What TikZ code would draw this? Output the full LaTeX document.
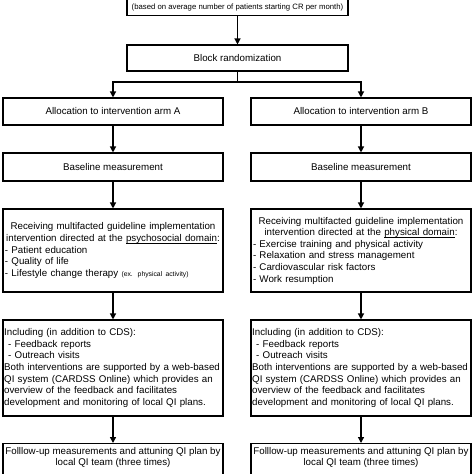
\documentclass[tikz,border=0pt]{standalone}
\usepackage{fontspec}
\setmainfont{Liberation Sans}
\usetikzlibrary{arrows.meta}
\newcommand{\ctrline}[1]{\makebox[216pt][c]{#1}}
\newsavebox{\domainbox}
\newcommand{\domain}[1]{\sbox{\domainbox}{#1}\rlap{\rule[-1.8pt]{\wd\domainbox}{0.5pt}}\usebox{\domainbox}}
\begin{document}
\begin{tikzpicture}[x=1pt,y=-1pt,
  box/.style={draw, line width=1.1pt, rectangle, inner xsep=2pt, inner ysep=1pt,
    minimum width=220pt, font=\fontsize{9.75}{11.6}\selectfont},
  leftbox/.style={box, text width=216pt, align=left},
  incbox/.style={box, inner xsep=1.2pt, text width=217.6pt, align=left},
  plain/.style={inner sep=0pt, font=\fontsize{9.75}{11.6}\selectfont, align=center},
  small/.style={inner sep=0pt, font=\fontsize{7.75}{9}\selectfont},
  arr/.style={-{Triangle[length=6pt,width=6pt]}, line width=1.3pt},
  ln/.style={line width=1.3pt}]
\useasboundingbox (0,0) rectangle (474,474);

% top
\node[box, minimum width=221pt, minimum height=40pt, anchor=south] (top) at (237.5,16) {};
\node[small] (toptext) at (237.5,7.5) {(based on average number of patients starting CR per month)};
\node[box, minimum width=221pt, minimum height=26pt] (block) at (237.5,58) {Block randomization};
\coordinate (split) at (237.5,82);

% left arm
\node[box, minimum height=27pt] (allocA) at (113,111.5) {Allocation to intervention arm A};
\node[box, minimum height=28pt] (baseA) at (113,167) {Baseline measurement};
\node[leftbox, minimum height=83pt] (recA) at (113,250.5) {\ctrline{Receiving multifacted guideline implementation}\\
\ctrline{intervention directed at the \domain{psychosocial domain}:}\\
- Patient education\\
- Quality of life\\
- Lifestyle change therapy {\fontsize{6.8}{8}\selectfont(ex. physical activity)}};
\node[incbox, minimum height=96pt] (incA) at (113,368) {Including (in addition to CDS):\\
\hspace*{4pt}- Feedback reports\\
\hspace*{4pt}- Outreach visits\\
Both interventions are supported by a web-based\\
QI system (CARDSS Online) which provides an\\
overview of the feedback and facilitates\\
development and monitoring of local QI plans.};
\node[box, minimum height=45pt, anchor=north] (folA) at (113,443) {};
\node[plain] (folAtext) at (113,457.5) {Folllow-up measurements and attuning QI plan by\\ local QI team (three times)};

% right arm
\node[box, minimum height=27pt] (allocB) at (361,111.5) {Allocation to intervention arm B};
\node[box, minimum height=28pt] (baseB) at (361,167) {Baseline measurement};
\node[leftbox, minimum height=83pt] (recB) at (361,250.5) {\ctrline{Receiving multifacted guideline implementation}\\
\ctrline{intervention directed at the \domain{physical domain}:}\\
- Exercise training and physical activity\\
- Relaxation and stress management\\
- Cardiovascular risk factors\\
- Work resumption};
\node[incbox, minimum height=96pt] (incB) at (361,368) {Including (in addition to CDS):\\
\hspace*{4pt}- Feedback reports\\
\hspace*{4pt}- Outreach visits\\
Both interventions are supported by a web-based\\
QI system (CARDSS Online) which provides an\\
overview of the feedback and facilitates\\
development and monitoring of local QI plans.};
\node[box, minimum height=45pt, anchor=north] (folB) at (361,443) {};
\node[plain] (folBtext) at (361,457.5) {Folllow-up measurements and attuning QI plan by\\ local QI team (three times)};

% connectors
\draw[arr] (top) -- (block);
\draw[ln] (block.south) -- (split);
\draw[arr] (split) -| (allocA.north);
\draw[arr] (split) -| (allocB.north);
\draw[arr] (allocA) -- (baseA);
\draw[arr] (baseA) -- (recA);
\draw[arr] (recA) -- (incA);
\draw[arr] (incA) -- (folA);
\draw[arr] (allocB) -- (baseB);
\draw[arr] (baseB) -- (recB);
\draw[arr] (recB) -- (incB);
\draw[arr] (incB) -- (folB);
\end{tikzpicture}
\end{document}
